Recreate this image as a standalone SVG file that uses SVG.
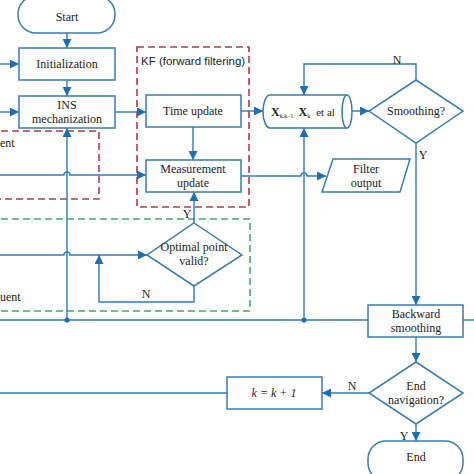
<svg xmlns="http://www.w3.org/2000/svg" width="474" height="474" viewBox="0 0 474 474">
<defs>
<marker id="ah" viewBox="0 0 10 10" refX="10" refY="5" markerWidth="9" markerHeight="9" markerUnits="userSpaceOnUse" orient="auto">
<path d="M0,0 L10,5 L0,10 Z" fill="#1f6db3"/>
</marker>
<style>
.box{fill:#fff;stroke:#3b7bb0;stroke-width:1.5}
.ln{fill:none;stroke:#2e7bbd;stroke-width:1.4}
.ar{fill:none;stroke:#2e7bbd;stroke-width:1.4;marker-end:url(#ah)}
.red{fill:none;stroke:#b23a4a;stroke-width:1.6;stroke-dasharray:7 4}
.grn{fill:none;stroke:#44a877;stroke-width:1.6;stroke-dasharray:7 4}
.t{font-family:"Liberation Serif","DejaVu Serif",serif;font-size:12px;fill:#222;text-anchor:middle}
.s{font-family:"Liberation Sans","DejaVu Sans",sans-serif;font-size:11px;fill:#222}
.dot{fill:#1f6db3}
</style>
</defs>
<rect width="474" height="474" fill="#fff"/>

<g id="regions">
<rect class="red" x="-10" y="131" width="109" height="68"/>
<rect class="grn" x="-10" y="219" width="260" height="92"/>
<rect class="red" x="137" y="47" width="112" height="160"/>
<text class="s" x="141" y="65" style="font-size:11.5px">KF (forward filtering)</text>
<text class="t" x="0" y="147" style="text-anchor:start">ent</text>
<text class="t" x="0" y="301" style="text-anchor:start">uent</text>
</g>

<g id="connectors">
<path class="ar" d="M67,33 V48"/>
<path class="ar" d="M0,64 H19"/>
<path class="ar" d="M67,80 V96"/>
<path class="ar" d="M0,112 H19"/>
<path class="ar" d="M115,112 H146"/>
<path class="ar" d="M67,320 V128"/>
<path class="ar" d="M0,175 H64 A3,3 0 0 1 70,175 H146"/>
<path class="ar" d="M0,255 H64 A3,3 0 0 1 70,255 H147"/>
<path class="ar" d="M194,286 V302 H99 V255"/>
<path class="ar" d="M193,127 V160"/>
<path class="ar" d="M194,223 V192"/>
<path class="ar" d="M241,111 H263"/>
<path class="ar" d="M241,176 H301 A3,3 0 0 1 307,176 H326"/>
<path class="ar" d="M304,320 V128"/>
<path class="ar" d="M352,111 H369"/>
<path class="ar" d="M416,80 V64 H304 V95"/>
<path class="ar" d="M416,143 V305"/>
<path class="ln" d="M0,320 H368"/>
<path class="ln" d="M463,320 H474"/>
<path class="ar" d="M416,337 V362"/>
<path class="ar" d="M369,393 H322"/>
<path class="ln" d="M227,393 H0"/>
<path class="ar" d="M416,424 V441"/>
<circle class="dot" cx="67" cy="320" r="2.6"/>
<circle class="dot" cx="304" cy="320" r="2.6"/>
<text class="t" x="187" y="218">Y</text>
<text class="t" x="146" y="298">N</text>
<text class="t" x="397" y="64">N</text>
<text class="t" x="423" y="159">Y</text>
<text class="t" x="352" y="390">N</text>
<text class="t" x="404" y="440">Y</text>
</g>

<g id="start">
<rect class="box" x="18" y="-4" width="97" height="37" rx="18"/>
<text class="t" x="67" y="21">Start</text>
</g>
<g id="init">
<rect class="box" x="19" y="48" width="96" height="32"/>
<text class="t" x="67" y="68">Initialization</text>
</g>
<g id="ins">
<rect class="box" x="19" y="96" width="96" height="32"/>
<text class="t" x="67" y="109">INS</text>
<text class="t" x="67" y="123">mechanization</text>
</g>
<g id="time-update">
<rect class="box" x="146" y="95" width="95" height="32"/>
<text class="t" x="193" y="115">Time update</text>
</g>
<g id="meas-update">
<rect class="box" x="146" y="160" width="95" height="32"/>
<text class="t" x="193" y="173">Measurement</text>
<text class="t" x="193" y="187">update</text>
</g>
<g id="optimal">
<path class="box" d="M194,223 L242,255 L194,286 L147,255 Z"/>
<text class="t" x="194" y="251">Optimal point</text>
<text class="t" x="194" y="265">valid?</text>
</g>
<g id="store">
<path class="box" d="M270,95 H347 A5,16.5 0 0 1 347,128 H270 A7,16.5 0 0 1 270,95 Z"/>
<path class="box" d="M347,95 A5,16.5 0 0 0 347,128"/>
<text font-family="Liberation Serif,DejaVu Serif,serif" font-size="12" fill="#222" x="271" y="116"><tspan font-weight="bold">X</tspan><tspan font-size="6" dy="2">k,k−1</tspan><tspan dy="-2" dx="5" font-weight="bold">X</tspan><tspan font-size="6" dy="2">k</tspan><tspan dy="-2" dx="6" font-size="11">et al</tspan></text>
</g>
<g id="smoothing">
<path class="box" d="M416,80 L463,111 L416,143 L369,111 Z"/>
<text class="t" x="416" y="115">Smoothing?</text>
</g>
<g id="filter-output">
<path class="box" d="M333,159 H410 L400,192 H322 Z"/>
<text class="t" x="366" y="173">Filter</text>
<text class="t" x="366" y="187">output</text>
</g>
<g id="backward">
<rect class="box" x="368" y="305" width="95" height="32"/>
<text class="t" x="416" y="318">Backward</text>
<text class="t" x="416" y="332">smoothing</text>
</g>
<g id="end-nav">
<path class="box" d="M416,362 L463,393 L416,424 L369,393 Z"/>
<text class="t" x="416" y="390">End</text>
<text class="t" x="416" y="404">navigation?</text>
</g>
<g id="k-inc">
<rect class="box" x="227" y="377" width="95" height="32"/>
<text class="t" x="274" y="397" font-style="italic">k = k + 1</text>
</g>
<g id="end">
<rect class="box" x="368" y="441" width="95" height="40" rx="18"/>
<text class="t" x="416" y="461">End</text>
</g>
</svg>
